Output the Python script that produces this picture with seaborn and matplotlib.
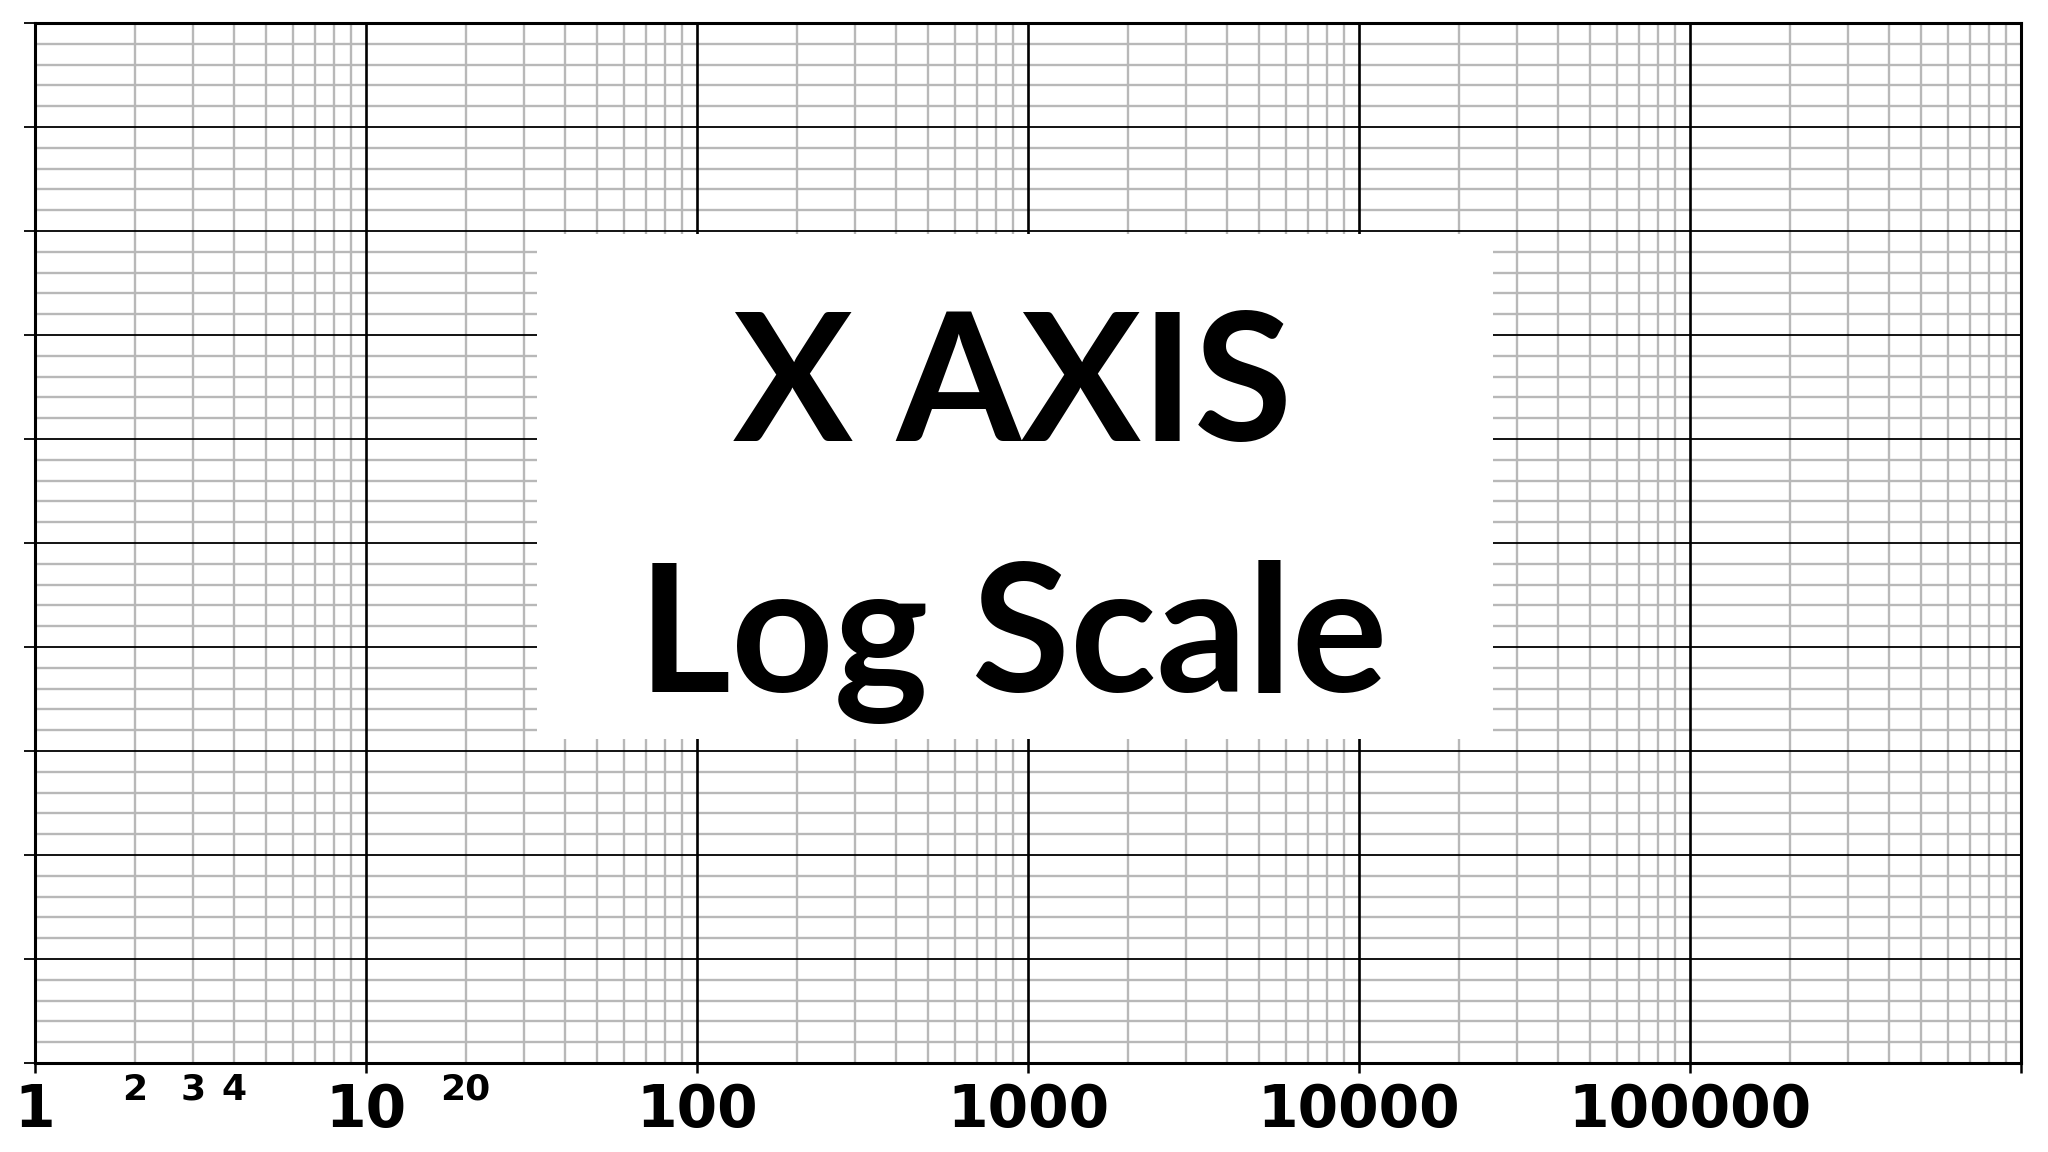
import matplotlib
matplotlib.use("Agg")
import matplotlib.pyplot as plt
import matplotlib.ticker as mticker
import matplotlib.patches as mpatches
import seaborn as sns

# axis ranges
x_min, x_max = 1, 1000000
y_min, y_max = 0, 10

# major ticks / labels on the log x axis
major_x = [1, 10, 100, 1000, 10000, 100000, 1000000]
major_x_labels = ["1", "10", "100", "1000", "10000", "100000", ""]

# the few minor ticks that carry a label
minor_x_labeled = [2, 3, 4, 20]
minor_x_labels = ["2", "3", "4", "20"]

# linear y axis, unlabeled
major_y = [0, 1, 2, 3, 4, 5, 6, 7, 8, 9, 10]
minor_y_step = 0.2

title_lines = ["X AXIS", "Log Scale"]

sns.set_theme(style="white")
plt.rcParams["font.family"] = ["DejaVu Sans"]
plt.rcParams["font.weight"] = "bold"
plt.rcParams["text.color"] = "black"

fig = plt.figure(figsize=(20.48, 11.52), dpi=100)
ax = fig.add_axes([0.0171, 0.0773, 0.9697, 0.9028])

ax.set_xscale("log")
ax.set_xlim(x_min, x_max)
ax.set_ylim(y_min, y_max)

ax.set_xticks(major_x, major_x_labels)
ax.xaxis.set_minor_locator(mticker.LogLocator(base=10, subs=range(2, 10), numticks=100))
minor_lookup = dict(zip(minor_x_labeled, minor_x_labels))
ax.xaxis.set_minor_formatter(
    mticker.FuncFormatter(lambda v, p: minor_lookup.get(int(round(v)), ""))
)
ax.set_yticks(major_y, [""] * len(major_y))
ax.yaxis.set_minor_locator(mticker.MultipleLocator(minor_y_step))

# gray minor grid, black major lines on top
ax.grid(which="minor", color="#b8b8b8", lw=1.7)
ax.grid(which="major", visible=False)
for v in major_x[1:-1]:
    ax.axvline(v, color="black", lw=1.9, zorder=2)
for v in major_y[1:-1]:
    ax.axhline(v, color="black", lw=1.3, zorder=2)

for s in ax.spines.values():
    s.set_color("black")
    s.set_linewidth(2.2)
    s.set_visible(True)

ax.tick_params(axis="x", which="major", bottom=True, direction="out", length=7.5,
               width=1.8, color="black", pad=6, labelsize=42, labelcolor="black")
ax.tick_params(axis="x", which="minor", bottom=True, length=0, pad=7,
               labelsize=26, labelcolor="black")
ax.tick_params(axis="y", which="major", left=True, direction="out", length=8,
               width=1.3, color="black")
ax.tick_params(axis="y", which="minor", length=0)

# white label box
box = mpatches.Rectangle((0.2528, 0.3115), 0.4813, 0.486, transform=ax.transAxes,
                         facecolor="white", edgecolor="none", zorder=3)
ax.add_patch(box)
ax.text(0.4924, 0.598, title_lines[0], transform=ax.transAxes, ha="center",
        va="baseline", fontsize=129, family="Lato", fontweight="bold",
        color="black", zorder=5)
ax.text(0.4924, 0.357, title_lines[1], transform=ax.transAxes, ha="center",
        va="baseline", fontsize=129, family="Lato", fontweight="bold",
        color="black", zorder=5)

fig.savefig("out.png", dpi=100, facecolor="white")
